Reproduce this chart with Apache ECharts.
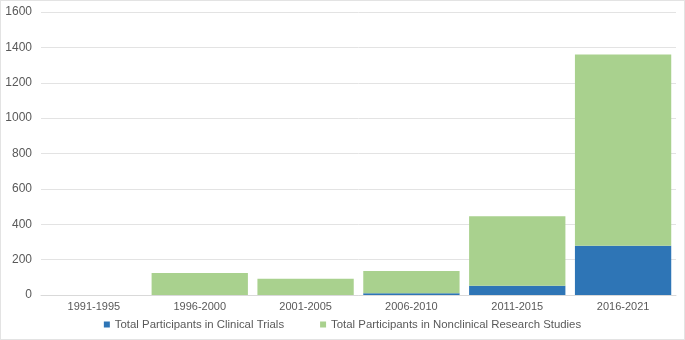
<!DOCTYPE html>
<html>
<head>
<meta charset="utf-8">
<script src="https://cdn.jsdelivr.net/npm/echarts@6/dist/echarts.min.js"></script>
<style>
  html, body { margin: 0; padding: 0; background: #fff; }
  #chart { width: 683px; height: 338px; border: 1px solid #e3e3e3; }
</style>
</head>
<body>
<div id="chart"></div>
<script>
// 时间段
const periods = ['1991-1995', '1996-2000', '2001-2005', '2006-2010', '2011-2015', '2016-2021']
// 临床试验参与人数
const clinical = [0, 0, 0, 10, 52, 278]
// 非临床研究参与人数
const nonclinical = [0, 124, 92, 125, 393, 1082]

const chart = echarts.init(document.getElementById('chart'))

const option = {
  backgroundColor: '#ffffff',
  color: ['#2e75b6', '#a9d18e'],
  textStyle: { fontFamily: 'Liberation Sans, Arial, sans-serif' },
  grid: { left: 40, right: 8, top: 11, bottom: 44 },
  legend: {
    bottom: 4,
    itemWidth: 6,
    itemHeight: 6,
    itemGap: 36,
    icon: 'rect',
    textStyle: { color: '#595959', fontSize: 11.4 },
    data: ['Total Participants in Clinical Trials', 'Total Participants in Nonclinical Research Studies']
  },
  xAxis: {
    type: 'category',
    data: periods,
    axisTick: { show: false },
    axisLine: { lineStyle: { color: '#d9d9d9' } },
    axisLabel: { color: '#595959', fontSize: 11, margin: 6 }
  },
  yAxis: {
    type: 'value',
    min: 0,
    max: 1600,
    interval: 200,
    splitLine: { lineStyle: { color: '#e3e3e3' } },
    axisLabel: { color: '#595959', fontSize: 12, margin: 9, formatter: v => String(v) }
  },
  series: [
    {
      name: 'Total Participants in Clinical Trials',
      type: 'bar',
      stack: 'total',
      barCategoryGap: '9%',
      data: clinical
    },
    {
      name: 'Total Participants in Nonclinical Research Studies',
      type: 'bar',
      stack: 'total',
      barCategoryGap: '9%',
      data: nonclinical
    }
  ]
}
chart.setOption(option)
</script>
</body>
</html>
